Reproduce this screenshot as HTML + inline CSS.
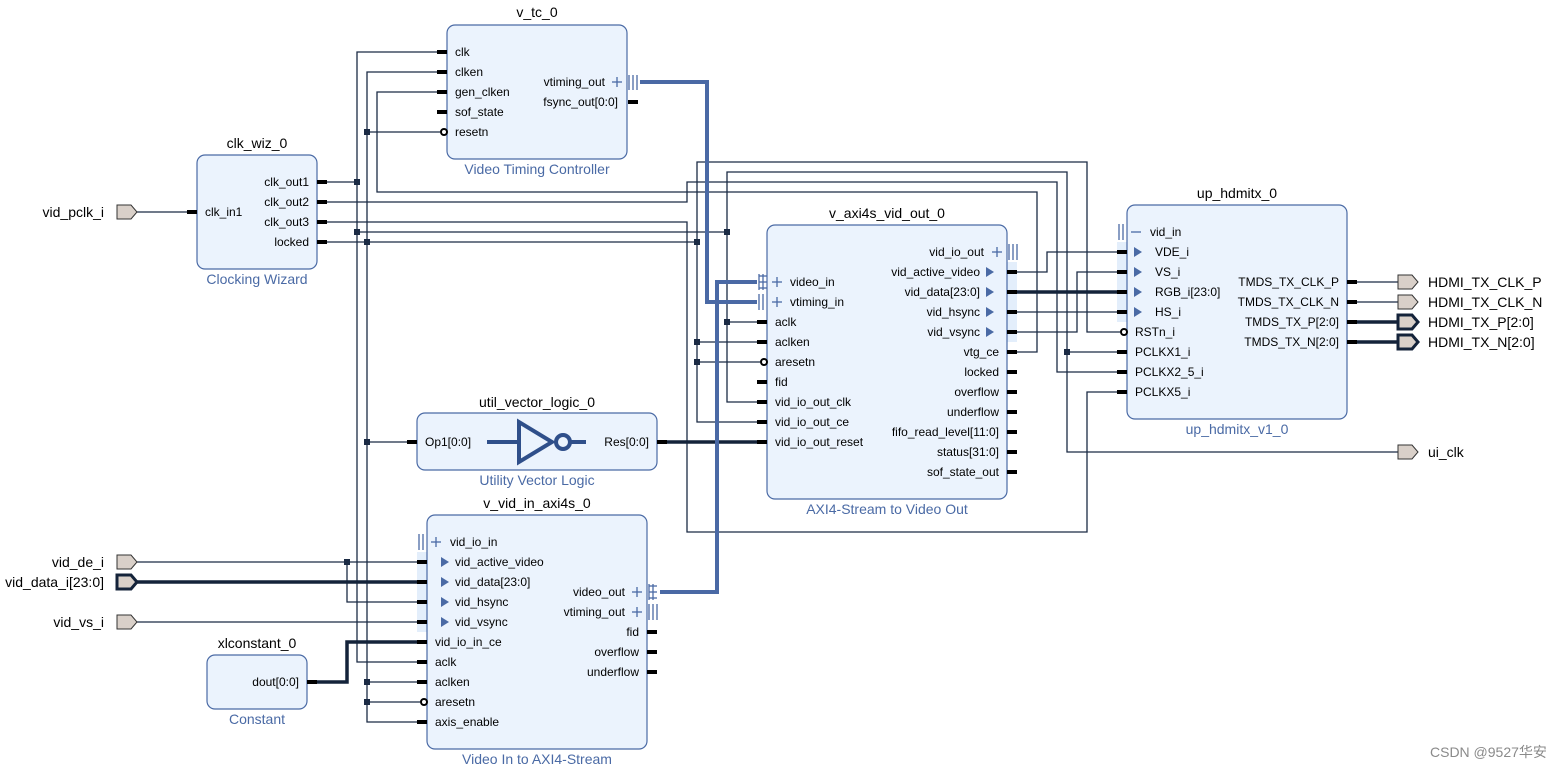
<!DOCTYPE html>
<html><head><meta charset="utf-8"><style>
html,body{margin:0;padding:0;background:#fff;}
svg{display:block;font-family:"Liberation Sans","Noto Sans CJK SC",sans-serif;}
.b{fill:#ebf3fd;stroke:#4a6aa5;stroke-width:1.2;}
.t{font-size:14px;fill:#000;text-anchor:middle;}
.s{font-size:14px;fill:#4a6aa5;text-anchor:middle;}
.p{font-size:12px;fill:#000;}
.r{font-size:12px;fill:#000;text-anchor:end;}
.w{stroke:#1b2b44;stroke-width:1.3;fill:none;}
.wt{stroke:#14233a;stroke-width:3.5;fill:none;}
.bus{stroke:#4a69a5;stroke-width:4;fill:none;}
.st{stroke:#000;stroke-width:4;}
.j{fill:#1b2b44;}
.tri{fill:#4a6aa5;}
.pl{stroke:#4a6aa5;stroke-width:1.3;}
.ep{fill:#d9d0c9;stroke:#333;stroke-width:1;}
.epb{fill:#d9d0c9;stroke:#14233a;stroke-width:3;}
.el{font-size:14px;fill:#000;}
</style></head><body>
<svg width="1549" height="769" viewBox="0 0 1549 769" xmlns="http://www.w3.org/2000/svg">
<rect x="1007" y="262" width="10" height="80" fill="#e3eefb"/>
<rect x="1117" y="242" width="10" height="80" fill="#e3eefb"/>
<rect x="417" y="552" width="10" height="80" fill="#e3eefb"/>

<g class="w">
<polyline points="327,182 357,182"/>
<polyline points="447,52 357,52 357,662 427,662"/>
<polyline points="357,232 727,232"/>
<polyline points="767,322 727,322"/>
<polyline points="767,402 727,402 727,172 1067,172 1067,452 1398,452"/>
<polyline points="1067,352 1117,352"/>
<polyline points="447,72 367,72 367,722 427,722"/>
<polyline points="367,132 440,132"/>
<polyline points="327,242 697,242"/>
<polyline points="367,442 407,442"/>
<polyline points="367,682 427,682"/>
<polyline points="367,702 420,702"/>
<polyline points="767,422 697,422 697,162 1087,162 1087,332 1120,332"/>
<polyline points="697,342 767,342"/>
<polyline points="697,362 760,362"/>
<polyline points="447,92 377,92 377,192 1037,192 1037,352 1017,352"/>
<polyline points="327,202 687,202 687,182 1057,182 1057,372 1117,372"/>
<polyline points="327,222 687,222 687,532 1087,532 1087,392 1117,392"/>
<polyline points="137,212 187,212"/>
<polyline points="1017,272 1047,272 1047,252 1117,252"/>
<polyline points="1017,312 1117,312"/>
<polyline points="1017,332 1077,332 1077,272 1117,272"/>
<polyline points="1357,282 1398,282"/>
<polyline points="1357,302 1398,302"/>
<polyline points="137,562 417,562"/>
<polyline points="347,562 347,602 417,602"/>
<polyline points="137,622 417,622"/>
</g>
<g class="wt">
<polyline points="137,582 417,582"/>
<polyline points="317,682 347,682 347,642 417,642"/>
<polyline points="667,442 757,442"/>
<polyline points="1017,292 1117,292"/>
<polyline points="1357,322 1398,322"/>
<polyline points="1357,342 1398,342"/>
</g>
<g class="bus">
<polyline points="640,82 707,82 707,302 757,302"/>
<polyline points="660,592 717,592 717,282 757,282"/>
</g>
<g class="j">
<rect x="354" y="179" width="6" height="6"/><rect x="354" y="229" width="6" height="6"/>
<rect x="364" y="129" width="6" height="6"/><rect x="364" y="239" width="6" height="6"/>
<rect x="364" y="439" width="6" height="6"/><rect x="364" y="679" width="6" height="6"/>
<rect x="364" y="699" width="6" height="6"/>
<rect x="724" y="229" width="6" height="6"/><rect x="724" y="319" width="6" height="6"/>
<rect x="694" y="239" width="6" height="6"/><rect x="694" y="339" width="6" height="6"/>
<rect x="694" y="359" width="6" height="6"/>
<rect x="1064" y="349" width="6" height="6"/>
<rect x="344" y="559" width="6" height="6"/>
</g>

<text class="t" x="537" y="17">v_tc_0</text>
<rect class="b" x="447" y="25" width="180" height="134" rx="8"/>
<text class="s" x="537" y="174">Video Timing Controller</text>
<g class="st"><line x1="437" y1="52" x2="447" y2="52"/><line x1="437" y1="72" x2="447" y2="72"/><line x1="437" y1="92" x2="447" y2="92"/><line x1="437" y1="112" x2="447" y2="112"/><line x1="628" y1="102" x2="638" y2="102"/></g>
<circle cx="444" cy="132" r="3" fill="#fff" stroke="#000" stroke-width="2"/>
<text class="p" x="455" y="56">clk</text><text class="p" x="455" y="76">clken</text><text class="p" x="455" y="96">gen_clken</text><text class="p" x="455" y="116">sof_state</text><text class="p" x="455" y="136">resetn</text>
<text class="r" x="605" y="86">vtiming_out</text><text class="r" x="618" y="106">fsync_out[0:0]</text>
<g class="pl"><line x1="612" y1="82" x2="622" y2="82"/><line x1="617" y1="77" x2="617" y2="87"/><line x1="629" y1="75" x2="629" y2="90"/><line x1="633" y1="75" x2="633" y2="90"/><line x1="637" y1="75" x2="637" y2="90"/></g>

<text class="t" x="257" y="148">clk_wiz_0</text>
<rect class="b" x="197" y="155" width="120" height="114" rx="8"/>
<text class="s" x="257" y="284">Clocking Wizard</text>
<g class="st"><line x1="187" y1="212" x2="197" y2="212"/><line x1="317" y1="182" x2="327" y2="182"/><line x1="317" y1="202" x2="327" y2="202"/><line x1="317" y1="222" x2="327" y2="222"/><line x1="317" y1="242" x2="327" y2="242"/></g>
<text class="p" x="205" y="216">clk_in1</text>
<text class="r" x="309" y="186">clk_out1</text><text class="r" x="309" y="206">clk_out2</text><text class="r" x="309" y="226">clk_out3</text><text class="r" x="309" y="246">locked</text>
<polygon class="ep" points="117,205 131,205 137,212 131,219 117,219"/>
<text class="el" x="104" y="217" text-anchor="end">vid_pclk_i</text>

<text class="t" x="887" y="218">v_axi4s_vid_out_0</text>
<rect class="b" x="767" y="225" width="240" height="274" rx="8"/>
<text class="s" x="887" y="514">AXI4-Stream to Video Out</text>
<g class="st">
<line x1="757" y1="322" x2="767" y2="322"/><line x1="757" y1="342" x2="767" y2="342"/><line x1="757" y1="382" x2="767" y2="382"/><line x1="757" y1="402" x2="767" y2="402"/><line x1="757" y1="422" x2="767" y2="422"/><line x1="757" y1="442" x2="767" y2="442"/>
<line x1="1007" y1="272" x2="1017" y2="272"/><line x1="1007" y1="292" x2="1017" y2="292"/><line x1="1007" y1="312" x2="1017" y2="312"/><line x1="1007" y1="332" x2="1017" y2="332"/><line x1="1007" y1="352" x2="1017" y2="352"/><line x1="1007" y1="372" x2="1017" y2="372"/><line x1="1007" y1="392" x2="1017" y2="392"/><line x1="1007" y1="412" x2="1017" y2="412"/><line x1="1007" y1="432" x2="1017" y2="432"/><line x1="1007" y1="452" x2="1017" y2="452"/><line x1="1007" y1="472" x2="1017" y2="472"/>
</g>
<circle cx="764" cy="362" r="3" fill="#fff" stroke="#000" stroke-width="2"/>
<g class="pl">
<line x1="759" y1="274" x2="759" y2="290"/><line x1="763" y1="274" x2="763" y2="290"/><line x1="759" y1="276" x2="767" y2="276"/><line x1="759" y1="282" x2="767" y2="282"/><line x1="759" y1="288" x2="767" y2="288"/>
<line x1="759" y1="294" x2="759" y2="310"/><line x1="763" y1="294" x2="763" y2="310"/>
<line x1="772" y1="282" x2="782" y2="282"/><line x1="777" y1="277" x2="777" y2="287"/>
<line x1="772" y1="302" x2="782" y2="302"/><line x1="777" y1="297" x2="777" y2="307"/>
<line x1="992" y1="252" x2="1002" y2="252"/><line x1="997" y1="247" x2="997" y2="257"/>
<line x1="1009" y1="244" x2="1009" y2="260"/><line x1="1013" y1="244" x2="1013" y2="260"/><line x1="1017" y1="244" x2="1017" y2="260"/>
</g>
<text class="p" x="790" y="286">video_in</text><text class="p" x="790" y="306">vtiming_in</text>
<text class="p" x="775" y="326">aclk</text><text class="p" x="775" y="346">aclken</text><text class="p" x="775" y="366">aresetn</text><text class="p" x="775" y="386">fid</text><text class="p" x="775" y="406">vid_io_out_clk</text><text class="p" x="775" y="426">vid_io_out_ce</text><text class="p" x="775" y="446">vid_io_out_reset</text>
<text class="r" x="984" y="256">vid_io_out</text>
<text class="r" x="980" y="276">vid_active_video</text><text class="r" x="980" y="296">vid_data[23:0]</text><text class="r" x="980" y="316">vid_hsync</text><text class="r" x="980" y="336">vid_vsync</text>
<g class="tri"><polygon points="986,267 986,277 994,272"/><polygon points="986,287 986,297 994,292"/><polygon points="986,307 986,317 994,312"/><polygon points="986,327 986,337 994,332"/></g>
<text class="r" x="999" y="356">vtg_ce</text><text class="r" x="999" y="376">locked</text><text class="r" x="999" y="396">overflow</text><text class="r" x="999" y="416">underflow</text><text class="r" x="999" y="436">fifo_read_level[11:0]</text><text class="r" x="999" y="456">status[31:0]</text><text class="r" x="999" y="476">sof_state_out</text>

<text class="t" x="1237" y="198">up_hdmitx_0</text>
<rect class="b" x="1127" y="205" width="220" height="214" rx="8"/>
<text class="s" x="1237" y="434">up_hdmitx_v1_0</text>
<g class="st">
<line x1="1117" y1="252" x2="1127" y2="252"/><line x1="1117" y1="272" x2="1127" y2="272"/><line x1="1117" y1="292" x2="1127" y2="292"/><line x1="1117" y1="312" x2="1127" y2="312"/><line x1="1117" y1="352" x2="1127" y2="352"/><line x1="1117" y1="372" x2="1127" y2="372"/><line x1="1117" y1="392" x2="1127" y2="392"/>
<line x1="1347" y1="282" x2="1357" y2="282"/><line x1="1347" y1="302" x2="1357" y2="302"/><line x1="1347" y1="322" x2="1357" y2="322"/><line x1="1347" y1="342" x2="1357" y2="342"/>
</g>
<circle cx="1124" cy="332" r="3" fill="#fff" stroke="#000" stroke-width="2"/>
<g class="pl"><line x1="1119" y1="224" x2="1119" y2="240"/><line x1="1123" y1="224" x2="1123" y2="240"/><line x1="1131" y1="232" x2="1141" y2="232"/></g>
<text class="p" x="1150" y="236">vid_in</text>
<g class="tri"><polygon points="1134,247 1134,257 1142,252"/><polygon points="1134,267 1134,277 1142,272"/><polygon points="1134,287 1134,297 1142,292"/><polygon points="1134,307 1134,317 1142,312"/></g>
<text class="p" x="1155" y="256">VDE_i</text><text class="p" x="1155" y="276">VS_i</text><text class="p" x="1155" y="296">RGB_i[23:0]</text><text class="p" x="1155" y="316">HS_i</text>
<text class="p" x="1135" y="336">RSTn_i</text><text class="p" x="1135" y="356">PCLKX1_i</text><text class="p" x="1135" y="376">PCLKX2_5_i</text><text class="p" x="1135" y="396">PCLKX5_i</text>
<text class="r" x="1339" y="286">TMDS_TX_CLK_P</text><text class="r" x="1339" y="306">TMDS_TX_CLK_N</text><text class="r" x="1339" y="326">TMDS_TX_P[2:0]</text><text class="r" x="1339" y="346">TMDS_TX_N[2:0]</text>
<polygon class="ep" points="1398,275 1412,275 1418,282 1412,289 1398,289"/>
<polygon class="ep" points="1398,295 1412,295 1418,302 1412,309 1398,309"/>
<polygon class="epb" points="1398,315 1412,315 1418,322 1412,329 1398,329"/>
<polygon class="epb" points="1398,335 1412,335 1418,342 1412,349 1398,349"/>
<polygon class="ep" points="1398,445 1412,445 1418,452 1412,459 1398,459"/>
<text class="el" x="1428" y="287">HDMI_TX_CLK_P</text><text class="el" x="1428" y="307">HDMI_TX_CLK_N</text><text class="el" x="1428" y="327">HDMI_TX_P[2:0]</text><text class="el" x="1428" y="347">HDMI_TX_N[2:0]</text><text class="el" x="1428" y="457">ui_clk</text>

<text class="t" x="537" y="407">util_vector_logic_0</text>
<rect class="b" x="417" y="413" width="240" height="57" rx="8"/>
<text class="s" x="537" y="485">Utility Vector Logic</text>
<g class="st"><line x1="407" y1="442" x2="417" y2="442"/><line x1="657" y1="442" x2="667" y2="442"/></g>
<text class="p" x="425" y="446">Op1[0:0]</text><text class="r" x="649" y="446">Res[0:0]</text>
<g stroke="#2f4f8a" stroke-width="4" fill="none"><line x1="487" y1="442" x2="519" y2="442"/><polygon points="519,422 519,462 552,442"/><circle cx="563" cy="442" r="7"/><line x1="570" y1="442" x2="586" y2="442"/></g>

<text class="t" x="537" y="508">v_vid_in_axi4s_0</text>
<rect class="b" x="427" y="515" width="220" height="234" rx="8"/>
<text class="s" x="537" y="764">Video In to AXI4-Stream</text>
<g class="st">
<line x1="417" y1="562" x2="427" y2="562"/><line x1="417" y1="582" x2="427" y2="582"/><line x1="417" y1="602" x2="427" y2="602"/><line x1="417" y1="622" x2="427" y2="622"/><line x1="417" y1="642" x2="427" y2="642"/><line x1="417" y1="662" x2="427" y2="662"/><line x1="417" y1="682" x2="427" y2="682"/><line x1="417" y1="722" x2="427" y2="722"/>
<line x1="647" y1="632" x2="657" y2="632"/><line x1="647" y1="652" x2="657" y2="652"/><line x1="647" y1="672" x2="657" y2="672"/>
</g>
<circle cx="424" cy="702" r="3" fill="#fff" stroke="#000" stroke-width="2"/>
<g class="pl">
<line x1="419" y1="534" x2="419" y2="550"/><line x1="423" y1="534" x2="423" y2="550"/><line x1="431" y1="542" x2="441" y2="542"/><line x1="436" y1="537" x2="436" y2="547"/>
<line x1="632" y1="592" x2="642" y2="592"/><line x1="637" y1="587" x2="637" y2="597"/>
<line x1="632" y1="612" x2="642" y2="612"/><line x1="637" y1="607" x2="637" y2="617"/>
<line x1="649" y1="584" x2="649" y2="600"/><line x1="653" y1="584" x2="653" y2="600"/><line x1="649" y1="586" x2="657" y2="586"/><line x1="649" y1="592" x2="657" y2="592"/><line x1="649" y1="598" x2="657" y2="598"/>
<line x1="649" y1="604" x2="649" y2="620"/><line x1="653" y1="604" x2="653" y2="620"/><line x1="657" y1="604" x2="657" y2="620"/>
</g>
<text class="p" x="450" y="546">vid_io_in</text>
<g class="tri"><polygon points="441,557 441,567 449,562"/><polygon points="441,577 441,587 449,582"/><polygon points="441,597 441,607 449,602"/><polygon points="441,617 441,627 449,622"/></g>
<text class="p" x="455" y="566">vid_active_video</text><text class="p" x="455" y="586">vid_data[23:0]</text><text class="p" x="455" y="606">vid_hsync</text><text class="p" x="455" y="626">vid_vsync</text>
<text class="p" x="435" y="646">vid_io_in_ce</text><text class="p" x="435" y="666">aclk</text><text class="p" x="435" y="686">aclken</text><text class="p" x="435" y="706">aresetn</text><text class="p" x="435" y="726">axis_enable</text>
<text class="r" x="625" y="596">video_out</text><text class="r" x="625" y="616">vtiming_out</text>
<text class="r" x="639" y="636">fid</text><text class="r" x="639" y="656">overflow</text><text class="r" x="639" y="676">underflow</text>
<polygon class="ep" points="117,555 131,555 137,562 131,569 117,569"/>
<polygon class="epb" points="117,575 131,575 137,582 131,589 117,589"/>
<polygon class="ep" points="117,615 131,615 137,622 131,629 117,629"/>
<text class="el" x="104" y="567" text-anchor="end">vid_de_i</text>
<text class="el" x="104" y="587" text-anchor="end">vid_data_i[23:0]</text>
<text class="el" x="104" y="627" text-anchor="end">vid_vs_i</text>

<text class="t" x="257" y="648">xlconstant_0</text>
<rect class="b" x="207" y="655" width="100" height="54" rx="8"/>
<text class="s" x="257" y="724">Constant</text>
<line class="st" x1="307" y1="682" x2="317" y2="682"/>
<text class="r" x="299" y="686">dout[0:0]</text>

<text x="1430" y="757" font-size="14" fill="#8a8a8a">CSDN @9527华安</text>
</svg>
</body></html>
